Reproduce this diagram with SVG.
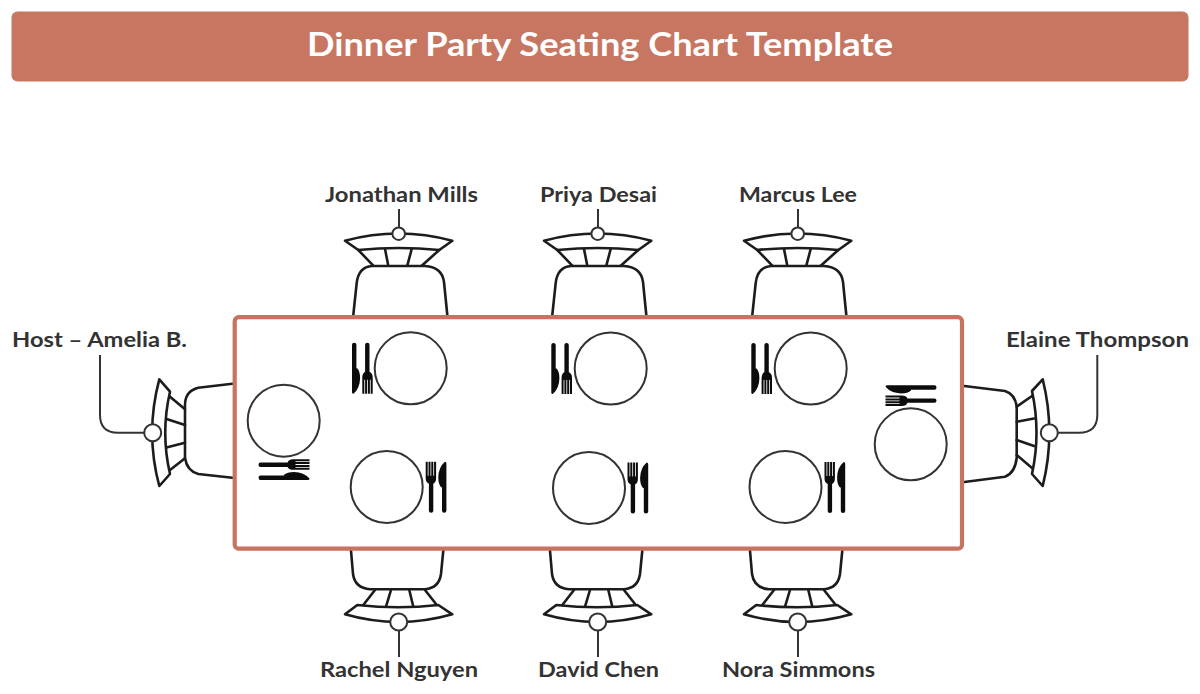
<svg xmlns="http://www.w3.org/2000/svg" width="1200" height="694" viewBox="0 0 1200 694">
<style>
.chair{fill:none;stroke:#1c1c1c;stroke-width:2.6;stroke-linejoin:round;stroke-linecap:round}
.plate{fill:#fff;stroke:#333;stroke-width:2}
.pin{fill:#fff;stroke:#333;stroke-width:2}
.lead{fill:none;stroke:#333;stroke-width:2}
.lab{font:700 21px Lato,"Noto Sans",sans-serif;fill:#333}
.ttl{font:700 32px Lato,"Noto Sans",sans-serif;fill:#fff}
.cut{fill:#0c0c0c}
</style>
<defs>
<g id="chairTop" class="chair">
<path d="M345 240.7Q398.6 226.3 452.3 240.7L439.3 250Q398.6 246 358.3 250Z"/>
<path d="M358.3 250L373.3 265.7M385 249L388.3 265.7M411.7 249L407.3 265.7M439.3 250L421.7 265.7"/>
<path d="M353.3 315L356.7 283Q358.5 267 372 266L425 266Q442 267 444 282L447.3 315"/>
</g>
<g id="chairBottom" class="chair">
<path d="M345 614.3Q398.6 629.7 452.3 614.3L438.3 605Q398.6 609.5 357.3 605Z"/>
<path d="M363.3 605L375 590M386 606.7L391 590M413.3 606.7L409.3 590M436 604L425 590"/>
<path d="M351 550.7L353 574Q355 588 370 589.3L425 589.3Q439 588 441 574L443.3 550.7"/>
</g>
<g id="cutlery" class="cut">
<path d="M-11 -25.5h2v14h.8v-14h2v14h.8v-14h2v14h.8v-14h2V-9Q-.6 -5 -3.4 -3.5V23.5Q-3.4 25.5 -5.6 25.5T-7.8 23.5V-3.5Q-11 -5 -11 -9Z"/>
<path d="M8.2 -25.5Q9.7 -25.5 9.7 -24V23.5Q9.7 25.5 7.5 25.5T5.3 23.5V0H4.5Q1.6 -3 1.6 -10Q1.8 -20 8.2 -25.5Z"/>
</g>
</defs>
<g id="title">
<rect x="11.5" y="11.5" width="1177" height="70" rx="6" fill="#c77662"/>
<text class="ttl" x="600" y="55.5" text-anchor="middle" textLength="586" lengthAdjust="spacingAndGlyphs">Dinner Party Seating Chart Template</text>
</g>
<g id="connectors">
<path class="lead" d="M399 209V227M598 209V227M798 209V227"/>
<path class="lead" d="M399 628V657M598 628V657M798 628V657"/>
<path class="lead" d="M100 355V415Q100 432.7 118 432.7H147"/>
<path class="lead" d="M1097.3 355V415Q1097.3 432.7 1079 432.7H1055"/>
</g>
<g id="chair-jonathan"><use href="#chairTop"/><circle class="pin" cx="398.7" cy="233.7" r="6.3"/></g>
<g id="chair-priya"><use href="#chairTop" x="199"/><circle class="pin" cx="597.7" cy="233.7" r="6.3"/></g>
<g id="chair-marcus"><use href="#chairTop" x="399"/><circle class="pin" cx="797.7" cy="233.7" r="6.3"/></g>
<g id="chair-rachel"><use href="#chairBottom"/><circle class="pin" cx="398.7" cy="622" r="8.5"/></g>
<g id="chair-david"><use href="#chairBottom" x="199"/><circle class="pin" cx="597.7" cy="622" r="8.5"/></g>
<g id="chair-nora"><use href="#chairBottom" x="399"/><circle class="pin" cx="797.7" cy="622" r="8.5"/></g>
<g id="chair-host" class="chair">
<path d="M159.3 379.3Q145 432.7 159.3 486L170 474Q160.5 432.7 170 391.7Z"/>
<path d="M170 396.7L185 409.3M167.3 419.3L185 425M167.3 447.3L185 442.7M170 470L185 458.3"/>
<path d="M232.3 383.7L198.3 387.7Q185 391 185 405V458Q187 471 198.3 474L232.3 477.7"/>
<circle class="pin" cx="152.7" cy="432.7" r="8.5"/>
</g>
<g id="chair-elaine" class="chair">
<path d="M1042.7 379.3Q1056 432.7 1042.7 486L1032 474Q1041 432.7 1032 391Z"/>
<path d="M1016.7 406.7L1032 396M1016.7 421.7L1034 418.5M1016.7 440L1034 446M1016.7 455L1032 468"/>
<path d="M964.3 386L1005 391Q1015 394 1016.7 406.7V458Q1015 473 1005 476.7L964.3 482"/>
<circle class="pin" cx="1049.3" cy="432.7" r="8.5"/>
</g>
<g id="table">
<rect x="234.7" y="317.2" width="727.3" height="231.5" rx="4" fill="#fff" stroke="#c8735f" stroke-width="4.2"/>
</g>
<g id="places">
<circle class="plate" cx="410.7" cy="368.3" r="36"/>
<circle class="plate" cx="610.7" cy="368.5" r="36"/>
<circle class="plate" cx="810.7" cy="368.5" r="36"/>
<circle class="plate" cx="386.7" cy="487" r="36"/>
<circle class="plate" cx="589" cy="488" r="36"/>
<circle class="plate" cx="785.5" cy="487" r="36"/>
<circle class="plate" cx="283.7" cy="420.7" r="36"/>
<circle class="plate" cx="910.7" cy="444.3" r="36"/>
<use href="#cutlery" transform="translate(361.7 368.3) rotate(180)"/>
<use href="#cutlery" transform="translate(561 368.5) rotate(180)"/>
<use href="#cutlery" transform="translate(761 368.5) rotate(180)"/>
<use href="#cutlery" transform="translate(436.7 487.2)"/>
<use href="#cutlery" transform="translate(638.5 488)"/>
<use href="#cutlery" transform="translate(835.5 487.5)"/>
<use href="#cutlery" transform="translate(284 470.3) rotate(90)"/>
<use href="#cutlery" transform="translate(911 395) rotate(-90)"/>
</g>
<g id="labels">
<text class="lab" x="325" y="202" textLength="153" lengthAdjust="spacingAndGlyphs">Jonathan Mills</text>
<text class="lab" x="540" y="202" textLength="117" lengthAdjust="spacingAndGlyphs">Priya Desai</text>
<text class="lab" x="739" y="202" textLength="118" lengthAdjust="spacingAndGlyphs">Marcus Lee</text>
<text class="lab" x="320" y="677" textLength="158" lengthAdjust="spacingAndGlyphs">Rachel Nguyen</text>
<text class="lab" x="538" y="677" textLength="121" lengthAdjust="spacingAndGlyphs">David Chen</text>
<text class="lab" x="722" y="677" textLength="153" lengthAdjust="spacingAndGlyphs">Nora Simmons</text>
<text class="lab" x="12" y="347" textLength="175" lengthAdjust="spacingAndGlyphs">Host – Amelia B.</text>
<text class="lab" x="1006" y="347" textLength="183" lengthAdjust="spacingAndGlyphs">Elaine Thompson</text>
</g>
</svg>
